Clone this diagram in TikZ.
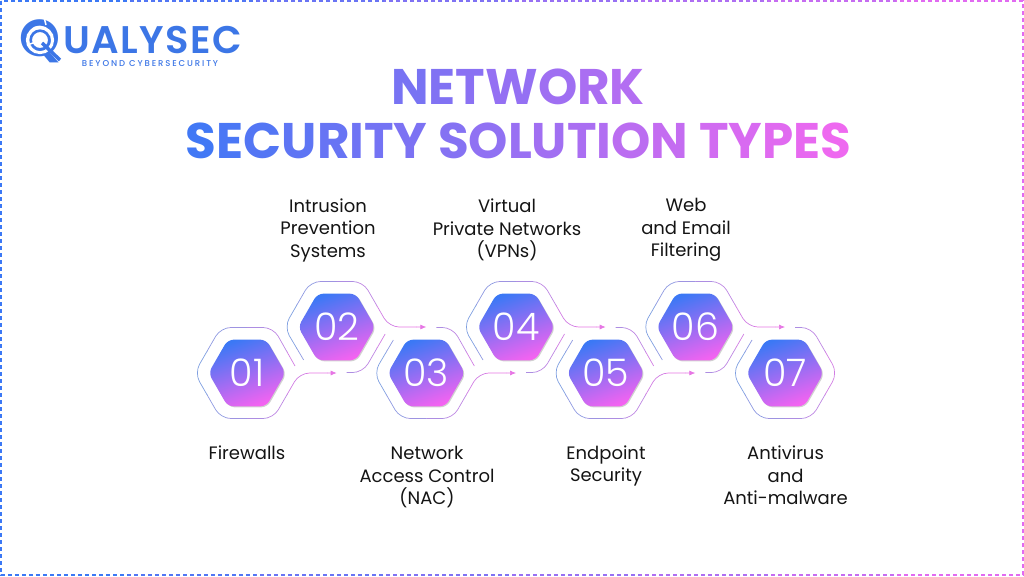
\documentclass[tikz,border=0pt]{standalone}
\usepackage{fontspec}
\setmainfont{Poppins}
\newfontfamily\popbold{Poppins SemiBold}
\newfontfamily\poplogo[LetterSpace=4]{Poppins SemiBold}
\newfontfamily\poplight{Poppins Light}
\newfontfamily\poptag[LetterSpace=22]{Poppins Medium}
\usetikzlibrary{arrows.meta,shapes.geometric,shadows}
\definecolor{qblue}{HTML}{3B78F5}
\definecolor{qpink}{HTML}{F468F0}
\definecolor{logoblue}{HTML}{3C76E6}
\definecolor{ringblue}{HTML}{7F9FE0}
\definecolor{ringpink}{HTML}{E676E4}
\definecolor{labelgray}{HTML}{141414}
\newcommand{\tl}[2]{\textcolor{qpink!#1!qblue}{#2}}
% ring line with its colour running from left to right
\newcommand{\gradring}[3][]{%
  \begin{scope}[shift={(#2.center)}]
    \foreach \bx/\mx in {-60/0,-40/15,-20/30,0/45,20/60,40/80,60/100,80/100}{
      \begin{scope}
        \clip (\bx,-60) rectangle (\bx+20.3,60);
        \draw[ring,#1,draw=ringpink!\mx!ringblue] #3;
      \end{scope}
    }
  \end{scope}}
\tikzset{%
  >={Latex[width=5pt,length=6pt]},
  % Specifications for style of nodes:
  hexa/.style = {shape=regular polygon, regular polygon sides=6, minimum size=77pt,
                 inner sep=0pt, rounded corners=6pt, top color=qblue, bottom color=qpink!95!magenta,
                 shading angle=20, text=white, font=\poplight\fontsize{38}{38}\selectfont,
                 drop shadow={shadow xshift=1pt, shadow yshift=-1pt, fill=black!40, opacity=.45}},
  step label/.style = {align=center, text=labelgray, font=\fontsize{18}{22.5}\selectfont},
  ring/.style = {line width=.7pt, rounded corners=10pt},
}
\begin{document}
\begin{tikzpicture}[x=1pt, y=-1pt, node distance=89.67pt]
  \useasboundingbox (0,0) rectangle (1024,576);
  % Page border
  \foreach \bx/\mx in {0/0,128/12,256/25,384/37,512/50,640/62,768/75,896/90}{
    \begin{scope}
      \clip (\bx,0) rectangle (\bx+128.5,576);
      \draw[draw=qpink!\mx!qblue, line width=1.8pt, dash pattern=on 4pt off 3pt] (1,1) rectangle (1023,575);
    \end{scope}
  }

  % Logo
  \node (logoq) [inner sep=0pt, text=logoblue, font=\popbold\fontsize{52}{52}\selectfont] at (40,41) {Q};
  \draw[white, line width=3pt] (40,40) circle (12.6);
  \draw[logoblue, line width=2.6pt] (40,40) circle (9.3);
  \draw[logoblue, line width=3.5pt] (42,43) -- (60,60);
  \draw[white, line width=1.5pt] (44,17) -- (46,25);
  \draw[white, line width=1.5pt] (27,45) -- (36,42);
  \node (logotext) [inner sep=0pt, anchor=west, text=logoblue, font=\poplogo\fontsize{38.5}{38.5}\selectfont] at (63,40) {UALYSEC};
  \node (logotag) [inner sep=0pt, text=logoblue, font=\poptag\fontsize{8.5}{8.5}\selectfont] at (150,64) {BEYOND CYBERSECURITY};

  % Title
  \node (title1) [inner sep=0pt, font=\bfseries\fontsize{50}{50}\selectfont] at (518,87)
    {\tl{33}{N}\tl{38}{E}\tl{43}{T}\tl{48}{W}\tl{54}{O}\tl{60}{R}\tl{65}{K}};
  \node (title2) [inner sep=0pt, font=\bfseries\fontsize{50}{50}\selectfont] at (518.5,141)
    {\tl{3}{S}\tl{8}{E}\tl{13}{C}\tl{19}{U}\tl{24}{R}\tl{28}{I}\tl{31}{T}\tl{35}{Y} \tl{40}{S}\tl{46}{O}\tl{51}{L}\tl{55}{U}\tl{60}{T}\tl{64}{I}\tl{69}{O}\tl{74}{N} \tl{81}{T}\tl{85}{Y}\tl{89}{P}\tl{93}{E}\tl{97}{S}};

  % Specification of nodes (position, etc.)
  \node (hex1) [hexa] at (247,373) {01};
  \node (hex2) [hexa, right of=hex1, yshift=46pt] {02};
  \node (hex3) [hexa, right of=hex2, yshift=-46pt] {03};
  \node (hex4) [hexa, right of=hex3, yshift=46pt] {04};
  \node (hex5) [hexa, right of=hex4, yshift=-46pt] {05};
  \node (hex6) [hexa, right of=hex5, yshift=46pt] {06};
  \node (hex7) [hexa, right of=hex6, yshift=-46pt] {07};

  \node (label1) [step label] at (247,453) {Firewalls};
  \node (label2) [step label] at (328,230) {Intrusion\\Prevention\\Systems};
  \node (label3) [step label] at (427,477.5) {Network\\Access Control\\(NAC)};
  \node (label4) [step label] at (507,230) {Virtual\\Private Networks\\(VPNs)};
  \node (label5) [step label] at (606,466) {Endpoint\\Security};
  \node (label6) [step label] at (686,230) {Web\\and Email\\Filtering};
  \node (label7) [step label] at (785.5,475.5) {Antivirus\\and\\Anti-malware};

  % Rings round the nodes and the arrows between them
  \gradring[->]{hex1}{(48,-7) -- (26.25,-45.5) -- (-26.25,-45.5) -- (-52.5,0) -- (-26.25,45.5) -- (26.25,45.5) -- (52.5,0) -- (hex1 -| hex2)}
  \gradring[->]{hex2}{(-33,33) -- (-52.5,0) -- (-26.25,-45.5) -- (26.25,-45.5) -- (52.5,0) -- (hex2 -| hex3)}
  \gradring{hex2}{(10,45.5) -- (26.25,45.5) -- (48.5,7)}
  \gradring[->]{hex3}{(-33,-33) -- (-52.5,0) -- (-26.25,45.5) -- (26.25,45.5) -- (52.5,0) -- (hex3 -| hex4)}
  \gradring{hex3}{(10,-45.5) -- (26.25,-45.5) -- (48,-7)}
  \gradring[->]{hex4}{(-33,33) -- (-52.5,0) -- (-26.25,-45.5) -- (26.25,-45.5) -- (52.5,0) -- (hex4 -| hex5)}
  \gradring{hex4}{(10,45.5) -- (26.25,45.5) -- (48.5,7)}
  \gradring[->]{hex5}{(-33,-33) -- (-52.5,0) -- (-26.25,45.5) -- (26.25,45.5) -- (52.5,0) -- (hex5 -| hex6)}
  \gradring{hex5}{(10,-45.5) -- (26.25,-45.5) -- (48,-7)}
  \gradring[->]{hex6}{(-33,33) -- (-52.5,0) -- (-26.25,-45.5) -- (26.25,-45.5) -- (52.5,0) -- (hex6 -| hex7)}
  \gradring{hex6}{(10,45.5) -- (26.25,45.5) -- (48.5,7)}
  \gradring{hex7}{(-33,-33) -- (-52.5,0) -- (-26.25,45.5) -- (26.25,45.5) -- (52.5,0) -- (26.25,-45.5) -- (10,-45.5)}
\end{tikzpicture}
\end{document}
